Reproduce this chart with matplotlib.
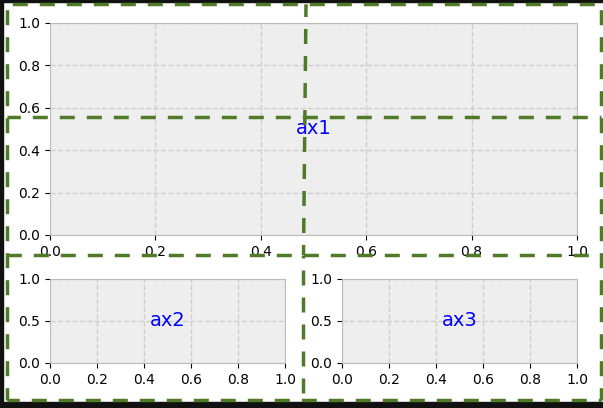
import matplotlib
matplotlib.use('Agg')
import matplotlib.pyplot as plt
from matplotlib.lines import Line2D
from matplotlib.patches import Rectangle

W, H = 603, 408

# tick values
x_ticks = [0.0, 0.2, 0.4, 0.6, 0.8, 1.0]
y_ticks_top = [0.0, 0.2, 0.4, 0.6, 0.8, 1.0]
y_ticks_bottom = [0.0, 0.5, 1.0]
labels = ['ax1', 'ax2', 'ax3']

fig = plt.figure(figsize=(W / 100, H / 100), dpi=100)


def box(left, top, right, bottom):
    # pixel box (from top-left) -> figure fraction rect
    return [left / W, 1 - bottom / H, (right - left) / W, (bottom - top) / H]


def style(ax, yticks, name):
    ax.set_facecolor('#eeeeee')
    ax.set_xlim(0, 1)
    ax.set_ylim(0, 1)
    ax.set_xticks(x_ticks)
    ax.set_yticks(yticks)
    ax.grid(True, color='#cfcfcf', linestyle='--', linewidth=1.0)
    ax.set_axisbelow(True)
    for s in ax.spines.values():
        s.set_color('#bcbcbc')
    ax.tick_params(labelsize=10, colors='black')
    ax.text(0.5, 0.5, name, transform=ax.transAxes, ha='center',
            va='center', fontsize=14, color='blue', zorder=5)


ax1 = fig.add_axes(box(50, 23, 577, 235))
ax2 = fig.add_axes(box(50, 279, 285, 363))
ax3 = fig.add_axes(box(342, 279, 577, 363))
style(ax1, y_ticks_top, labels[0])
style(ax2, y_ticks_bottom, labels[1])
style(ax3, y_ticks_bottom, labels[2])

# black figure frame (left, top, bottom)
for (l, t, r, b) in [(0, 0, W, 1.7), (0, 0, 3, H), (0, 402, W, H)]:
    fig.patches.append(Rectangle((l / W, 1 - b / H), (r - l) / W, (b - t) / H,
                                 transform=fig.transFigure, color='#111111',
                                 zorder=10))

# green dashed boxes: start, end, dash phase at start (px)
green = '#4f7a28'
lw = 2.5  # points
lw_px = lw * 100 / 72
segs = [
    ((6.7, 4.3), (600.5, 4.3), 21.7),
    ((6.7, 4.3), (6.7, 400.3), 21.3),
    ((600.5, 4.3), (600.5, 400.3), 21.3),
    ((6.7, 400.3), (600.5, 400.3), 2.7),
    ((6.7, 117), (600.5, 117), 1.7),
    ((306, 4.3), (303.5, 255), 2.3),
    ((6.7, 255), (600.5, 255), 0.7),
    ((303, 255), (303, 400.3), 12),
]
for (x0, y0), (x1, y1), ph in segs:
    ln = Line2D([x0 / W, x1 / W], [1 - y0 / H, 1 - y1 / H],
                transform=fig.transFigure, color=green, linewidth=lw,
                linestyle=(ph / lw_px, (15 / lw_px, 12 / lw_px)), zorder=20)
    fig.lines.append(ln)

fig.savefig('out.png', dpi=100)
